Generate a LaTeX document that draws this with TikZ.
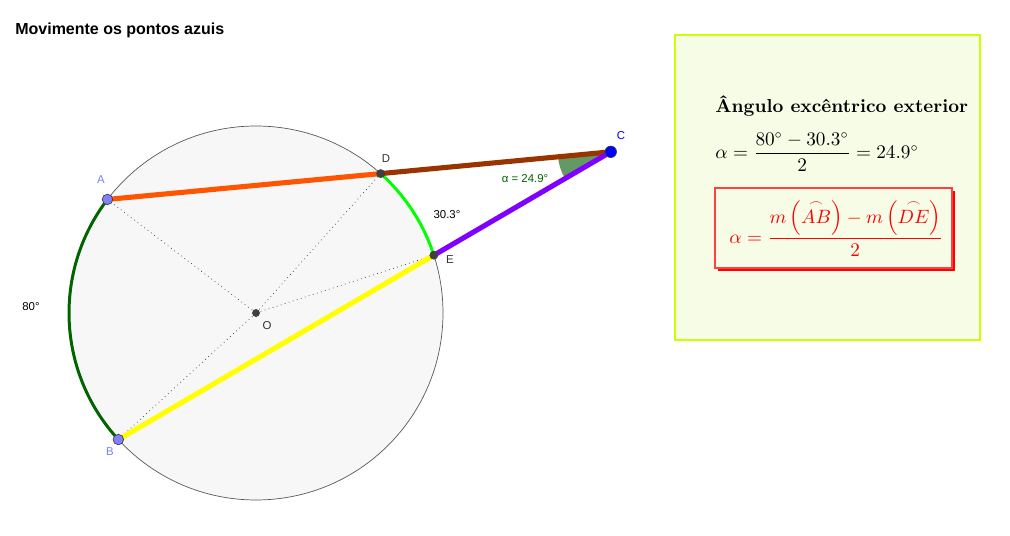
\documentclass[tikz,border=0pt]{standalone}
\usepackage{fontspec}
\setsansfont{Liberation Sans}
\usepackage{amsmath}
\usetikzlibrary{calc}
\definecolor{ptblue}{RGB}{128,128,255}
\definecolor{ptdark}{RGB}{64,64,64}
\definecolor{segorange}{RGB}{255,85,0}
\definecolor{segbrown}{RGB}{153,51,0}
\definecolor{segpurple}{RGB}{127,0,255}
\definecolor{segyellow}{RGB}{255,255,0}
\definecolor{arcdark}{RGB}{0,100,0}
\definecolor{arclight}{RGB}{0,255,0}
\definecolor{anglefill}{RGB}{100,153,100}
\definecolor{circfill}{RGB}{247,247,247}
\definecolor{boxfill}{RGB}{247,252,230}
\definecolor{boxline}{RGB}{204,255,0}

\begin{document}
\begin{tikzpicture}[pt/.style = {draw=black!75, circle, inner sep=0pt, thin},
                    seg/.style = {line width=2.9pt},
                    lbl/.style = {font=\sffamily\fontsize{6.5}{8}\selectfont, inner sep=0pt}]
\useasboundingbox (0,0) rectangle (20.2,10.7);
% points on the circle
\coordinate (O) at (5.12,4.44);
\coordinate (A) at ($(O)+(142.6:3.74)$);
\coordinate (B) at ($(O)+(222.6:3.74)$);
\coordinate (D) at ($(O)+(48.2:3.74)$);
\coordinate (E) at ($(O)+(18.0:3.74)$);
\coordinate (C) at (intersection of A--D and B--E);

\node[anchor=west, font=\sffamily\bfseries\fontsize{9.1}{11}\selectfont, inner sep=0pt] (title) at (0.3,10.1) {Movimente os pontos azuis};

\draw [fill=circfill, draw=black!65, line width=0.4pt] (O) circle (3.74);
\draw [dotted, black!80] (A) -- (O);
\draw [dotted, black!80] (B) -- (O);
\draw [dotted, black!80] (D) -- (O);
\draw [dotted, black!80] (E) -- (O);
\draw [line width=1.7pt, arcdark] (A) arc (142.6:222.6:3.74);
\draw [line width=1.7pt, arclight] (E) arc (18.0:48.2:3.74);
\fill [anglefill] (C) -- ++(185.4:1.06) arc (185.4:210.3:1.06) -- cycle;
\draw [seg, segorange] (A) -- (D);
\draw [seg, segbrown] (D) -- (C);
\draw [seg, segpurple] (C) -- (E);
\draw [seg, segyellow] (E) -- (B);

\begin{scope}[every node/.style={pt}]
	\node[fill=ptblue, minimum size=0.21cm] (pA) at (A) {};
	\node[fill=ptblue, minimum size=0.21cm] (pB) at (B) {};
	\node[fill=blue, minimum size=0.23cm] (pC) at (C) {};
	\node[fill=ptdark, minimum size=0.16cm] (pD) at (D) {};
	\node[fill=ptdark, minimum size=0.16cm] (pE) at (E) {};
	\node[fill=ptdark, minimum size=0.14cm] (pO) at (O) {};
\end{scope}

\node[lbl, text=ptblue] (lA) at (2.02,7.1) {A};
\node[lbl, text=ptblue] (lB) at (2.2,1.66) {B};
\node[lbl, text=blue] (lC) at (12.42,7.98) {C};
\node[lbl, text=black!80] (lD) at (7.72,7.52) {D};
\node[lbl, text=black!80] (lE) at (9.0,5.5) {E};
\node[lbl, text=black!80] (lO) at (5.34,4.18) {O};
\node[lbl] (l80) at (0.62,4.56) {80°};
\node[lbl] (l303) at (8.94,6.4) {30.3°};
\node[lbl, text=arcdark] (lalpha) at (10.5,7.12) {α = 24.9°};

% text box
\draw [fill=boxfill, draw=boxline, line width=1.1pt] (13.5,3.9) rectangle (19.6,10.0);
\node[anchor=west, inner sep=0pt, font=\fontsize{10.7}{13}\selectfont\bfseries] (head) at (14.3,8.58) {Ângulo excêntrico exterior};
\node[anchor=west, inner sep=0pt, font=\fontsize{10.5}{12}\selectfont] (calc) at (14.3,7.66) {$\alpha=\dfrac{80^\circ-30.3^\circ}{2}=24.9^\circ$};
\fill [red] (14.36,5.28) rectangle (19.10,6.88);
\draw [fill=boxfill, draw=red!75, line width=0.6pt] (14.3,5.34) rectangle (19.04,6.94);
\node[anchor=west, inner sep=0pt, text=red, font=\fontsize{10.5}{12}\selectfont] (rule) at (14.58,6.14) {$\alpha=\dfrac{m\left(\overset{\frown}{AB}\right)-m\left(\overset{\frown}{DE}\right)}{2}$};
\end{tikzpicture}
\end{document}
